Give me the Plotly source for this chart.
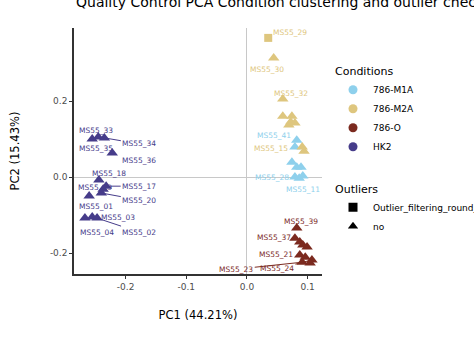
import plotly.graph_objects as go

# ---- data ----
samples = ["MS55_33", "MS55_34", "MS55_35", "MS55_36", "MS55_18", "MS55_19", "MS55_17", "MS55_20",
           "MS55_01", "MS55_03", "MS55_04", "MS55_02",
           "MS55_29", "MS55_30", "MS55_32", "", "", "", "", "", "MS55_15", "",
           "MS55_41", "", "", "", "", "MS55_28", "MS55_11", "",
           "MS55_39", "MS55_37", "", "", "", "MS55_21", "", "MS55_24", "MS55_23", ""]
pc1 = [-0.245, -0.235, -0.255, -0.222, -0.244, -0.237, -0.232, -0.240,
       -0.260, -0.255, -0.267, -0.247,
       0.035, 0.044, 0.059, 0.059, 0.074, 0.072, 0.079, 0.069, 0.091, 0.094,
       0.082, 0.079, 0.074, 0.082, 0.089, 0.079, 0.086, 0.092,
       0.082, 0.079, 0.087, 0.092, 0.099, 0.087, 0.096, 0.107, 0.091, 0.104]
pc2 = [0.105, 0.103, 0.100, 0.063, -0.008, -0.032, -0.024, -0.042,
       -0.050, -0.105, -0.108, -0.108,
       0.366, 0.313, 0.205, 0.160, 0.160, 0.145, 0.142, 0.137, 0.079, 0.068,
       0.097, 0.079, 0.039, 0.026, 0.026, 0.000, -0.003, 0.003,
       -0.134, -0.161, -0.171, -0.179, -0.184, -0.205, -0.211, -0.218, -0.224, -0.226]
condition = ["HK2"] * 12 + ["786-M2A"] * 10 + ["786-M1A"] * 8 + ["786-O"] * 10
outlier = ["no"] * 12 + ["Outlier_filtering_round_1"] + ["no"] * 27

condition_levels = ["786-M1A", "786-M2A", "786-O", "HK2"]
outlier_levels = ["Outlier_filtering_round_1", "no"]
x_ticks = [-0.2, -0.1, 0.0, 0.1]
x_tick_text = ["-0.2", "-0.1", "0.0", "0.1"]
y_ticks = [-0.2, 0.0, 0.2]
y_tick_text = ["-0.2", "0.0", "0.2"]
title_text = "Quality Control PCA Condition clustering and outlier check"

# ---- styles ----
colors = {"786-M1A": "#8ED0EC", "786-M2A": "#DEC67E", "786-O": "#7B2A1F", "HK2": "#463C8A"}
symbols = {"Outlier_filtering_round_1": "square", "no": "triangle-up"}

# label offsets in pixels (dx, dy, draw connector)
label_offsets = {
    "MS55_33": (-2, -7, False), "MS55_34": (35, 6, True), "MS55_35": (4, 9, False),
    "MS55_36": (27, 7, False), "MS55_18": (10, -7, False), "MS55_19": (-8, -2, False),
    "MS55_17": (33, 0, True), "MS55_20": (38, 7, True), "MS55_01": (7, 10, False),
    "MS55_03": (26, 1, False), "MS55_04": (12, 14, False), "MS55_02": (42, 14, True),
    "MS55_29": (22, -5, False), "MS55_30": (-7, 11, False), "MS55_32": (8, -6, False),
    "MS55_15": (-31, 1, False), "MS55_41": (-23, -5, False), "MS55_28": (-23, 0, False),
    "MS55_11": (4, 11, False), "MS55_39": (4, -6, False), "MS55_37": (-21, -1, False),
    "MS55_21": (-24, 0, False), "MS55_24": (-35, 9, True), "MS55_23": (-66, 7, True),
}

fig = go.Figure()

for cond in condition_levels:
    for out in outlier_levels:
        idx = [i for i in range(len(samples)) if condition[i] == cond and outlier[i] == out]
        if not idx:
            continue
        fig.add_trace(go.Scatter(
            x=[pc1[i] for i in idx], y=[pc2[i] for i in idx], mode="markers",
            marker=dict(color=colors[cond], symbol=symbols[out],
                        size=8 if out != "no" else 10, line=dict(width=0)),
            showlegend=False, hoverinfo="skip"))

annotations = []
for i, s in enumerate(samples):
    if s not in label_offsets:
        continue
    dx, dy, arrow = label_offsets[s]
    col = colors[condition[i]]
    if arrow:
        annotations.append(dict(x=pc1[i], y=pc2[i], xref="x", yref="y", text=s, showarrow=True,
                                ax=dx, ay=dy, arrowhead=0, arrowwidth=1, arrowcolor=col,
                                standoff=0, font=dict(size=7.5, color=col, family="DejaVu Sans")))
    else:
        annotations.append(dict(x=pc1[i], y=pc2[i], xref="x", yref="y", text=s, showarrow=False,
                                xshift=dx, yshift=-dy,
                                font=dict(size=7.5, color=col, family="DejaVu Sans")))

# title (partly above the page edge, as in the reference)
annotations.append(dict(text=title_text, xref="paper", yref="paper", x=0, y=1 + 26 / 246,
                        xanchor="left", yanchor="middle", showarrow=False,
                        font=dict(size=14, color="black", family="DejaVu Sans")))

# legend entries
for cond in condition_levels:
    fig.add_trace(go.Scatter(x=[None], y=[None], mode="markers", name=cond,
                             marker=dict(color=colors[cond], symbol="circle", size=9),
                             legend="legend"))
for out in outlier_levels:
    fig.add_trace(go.Scatter(x=[None], y=[None], mode="markers", name=out,
                             marker=dict(color="black", symbol=symbols[out], size=9),
                             legend="legend2"))

fig.update_layout(
    width=474, height=355,
    margin=dict(l=74, r=152, t=28, b=81, autoexpand=False),
    plot_bgcolor="white", paper_bgcolor="white",
    font=dict(family="DejaVu Sans", color="black"),
    annotations=annotations,
    legend=dict(title=dict(text="Conditions", font=dict(size=11)), font=dict(size=9),
                x=(333 - 74) / 248, y=0.866, xanchor="left", yanchor="top",
                bgcolor="rgba(0,0,0,0)", tracegroupgap=0),
    legend2=dict(title=dict(text="Outliers", font=dict(size=11)), font=dict(size=9),
                 x=(333 - 74) / 248, y=0.388, xanchor="left", yanchor="top",
                 bgcolor="rgba(0,0,0,0)"),
    xaxis=dict(range=[-0.285, 0.1236], tickvals=x_ticks, ticktext=x_tick_text,
               showgrid=False, zeroline=True, zerolinecolor="#C8C8C8", zerolinewidth=1,
               showline=True, linecolor="#333333", linewidth=1.5,
               ticks="outside", ticklen=3, tickcolor="#333333",
               tickfont=dict(size=9, color="#4D4D4D"),
               title=dict(text="PC1 (44.21%)", font=dict(size=11.5), standoff=20)),
    yaxis=dict(range=[-0.255, 0.392], tickvals=y_ticks, ticktext=y_tick_text,
               showgrid=False, zeroline=True, zerolinecolor="#C8C8C8", zerolinewidth=1,
               showline=True, linecolor="#333333", linewidth=1.5,
               ticks="outside", ticklen=3, tickcolor="#333333",
               tickfont=dict(size=9, color="#4D4D4D"),
               title=dict(text="PC2 (15.43%)", font=dict(size=11.5), standoff=28)),
)

fig.write_html("out.html", config={"displayModeBar": False},
               post_script="document.body.style.margin='0px';")
